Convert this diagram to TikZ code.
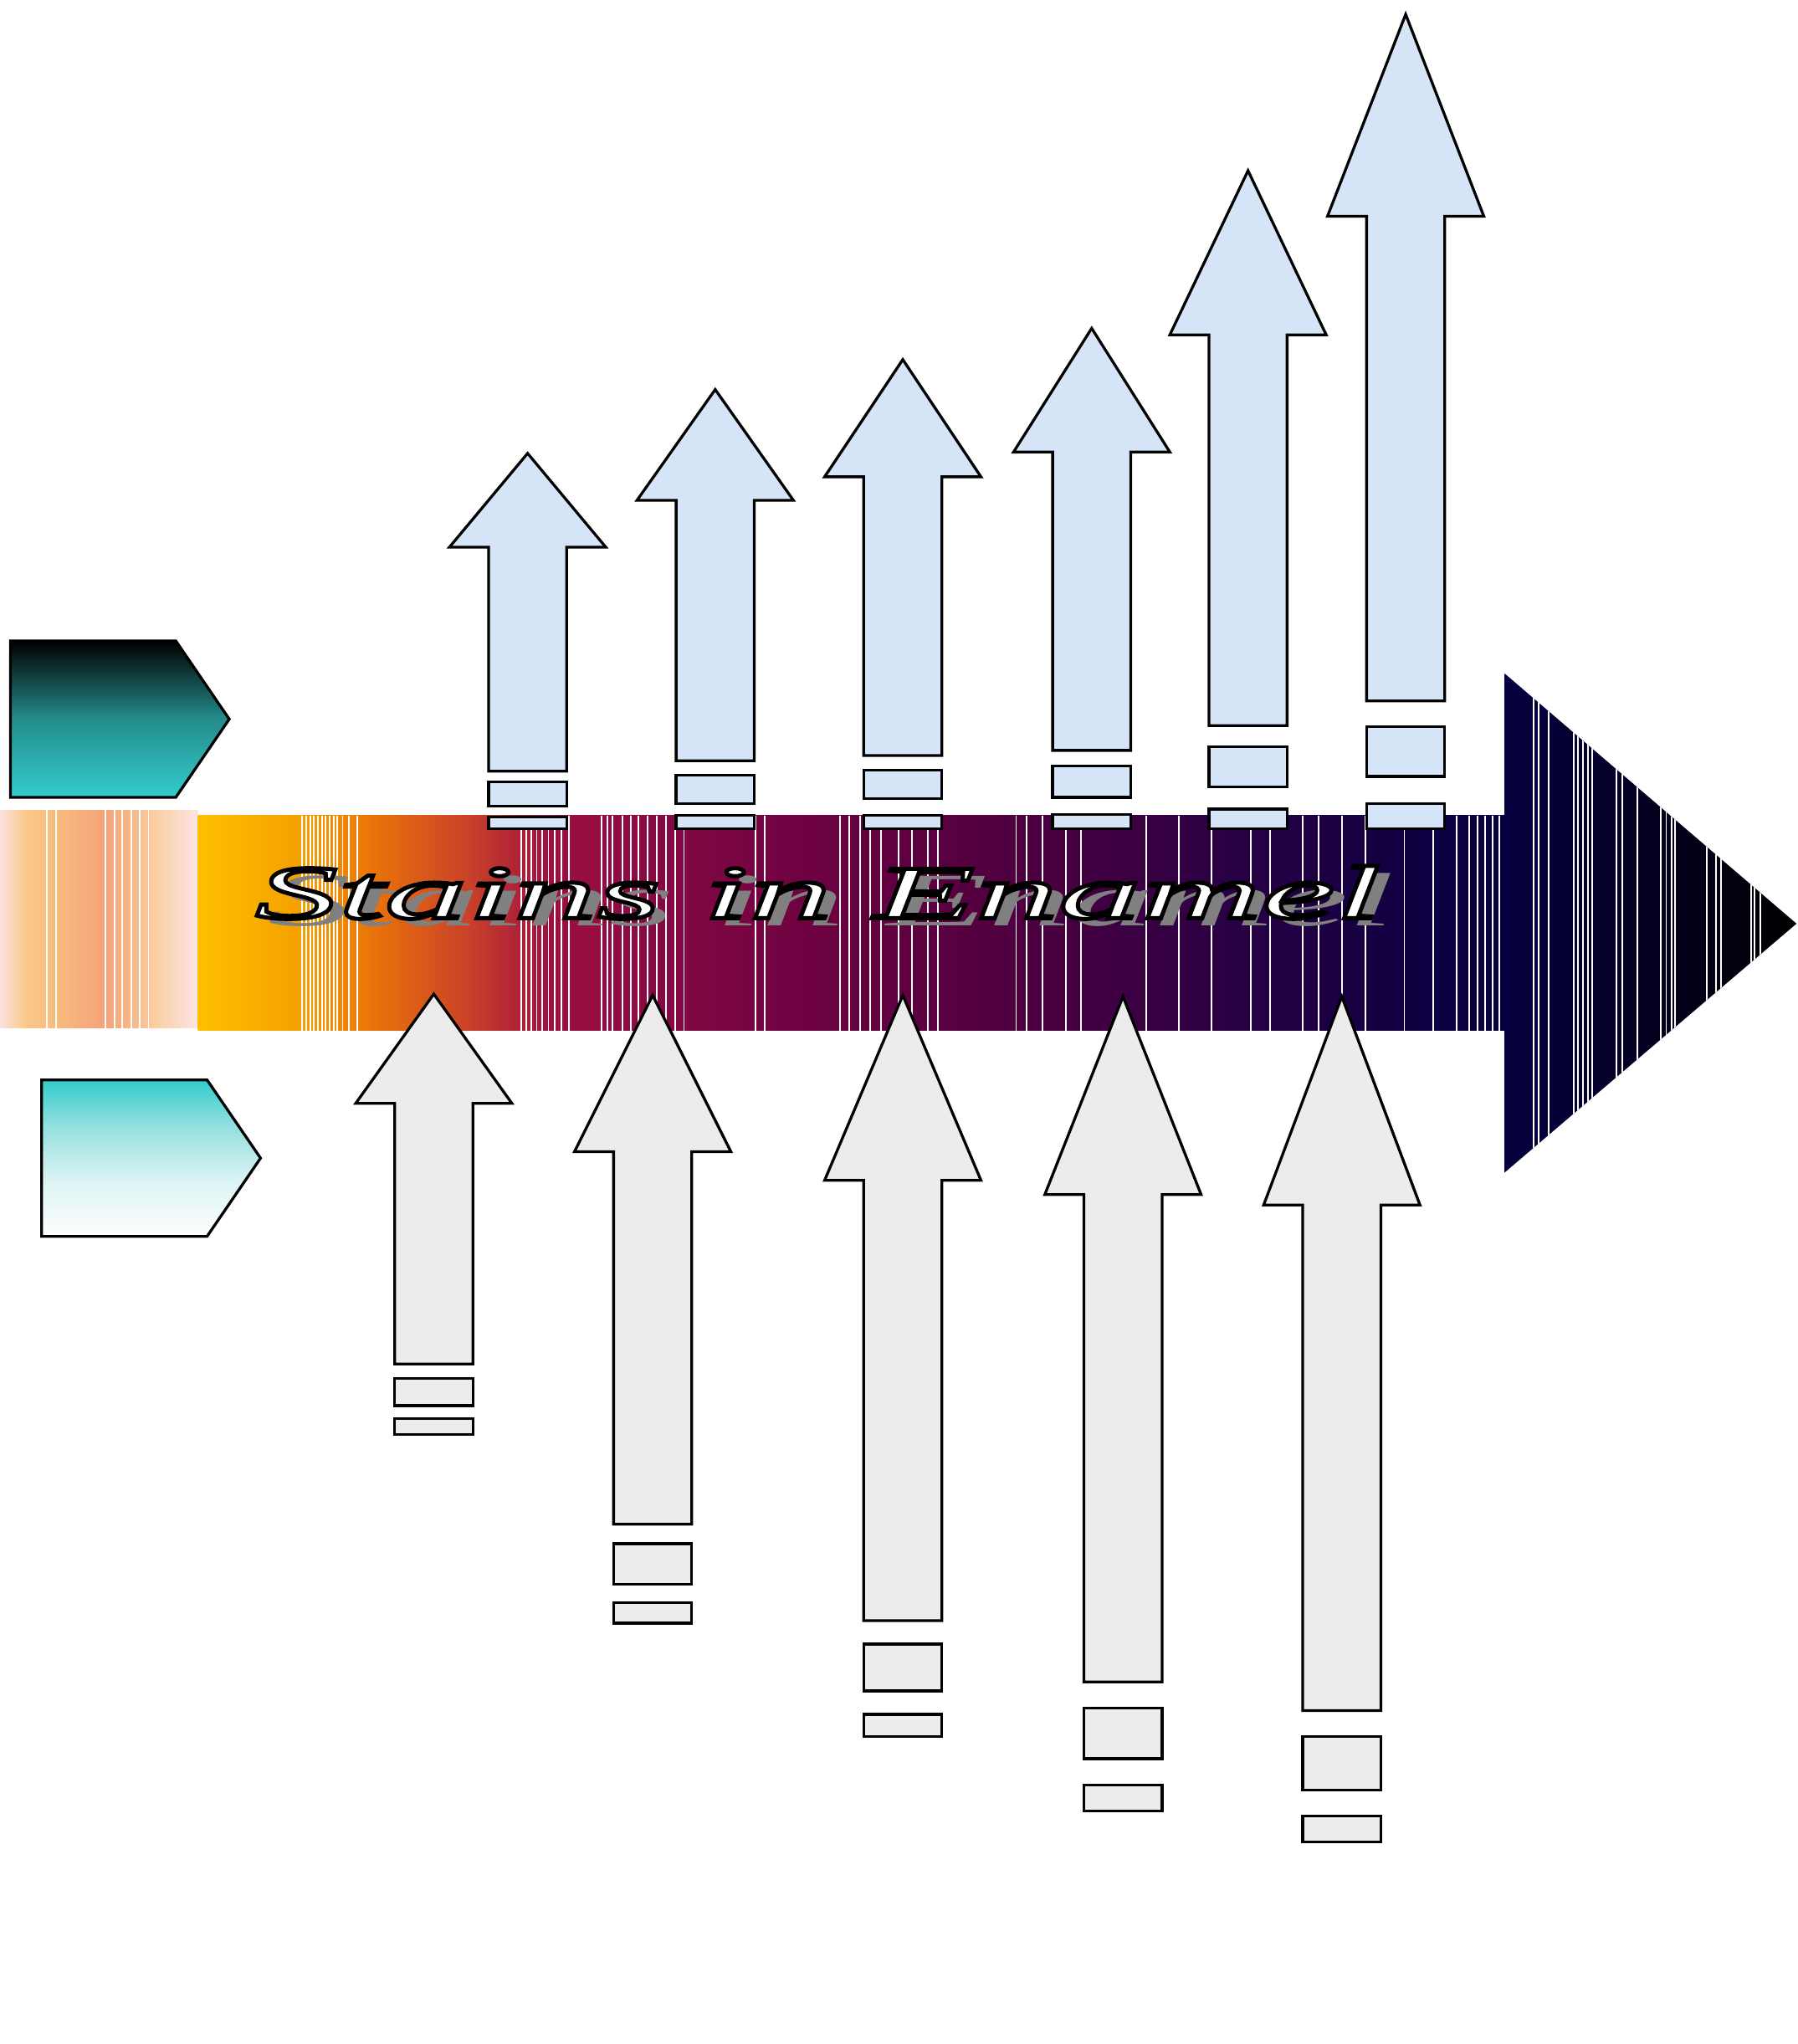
\documentclass[tikz,border=0pt]{standalone}
\usepackage{fontspec}
\newfontfamily\titlefont{Liberation Serif}[FakeStretch=2.2]
\usetikzlibrary{positioning}

\definecolor{spineblue}{RGB}{6,0,64}
\definecolor{tealtop}{RGB}{51,204,204}
\definecolor{iceblue}{RGB}{214,228,248}
\definecolor{stonegrey}{RGB}{236,236,236}

% spine colours, left to right
\definecolor{spA}{RGB}{255,192,0}
\definecolor{spB}{RGB}{245,160,0}
\definecolor{spC}{RGB}{232,112,12}
\definecolor{spD}{RGB}{200,64,42}
\definecolor{spE}{RGB}{158,16,64}
\definecolor{spF}{RGB}{130,8,68}
\definecolor{spG}{RGB}{104,0,64}
\definecolor{spH}{RGB}{74,0,64}
\definecolor{spI}{RGB}{40,0,68}
\definecolor{spJ}{RGB}{16,0,66}
\pgfdeclarehorizontalshading{spineshade}{100bp}{%
  color(0bp)=(spA); color(25bp)=(spA); color(28.9bp)=(spB);
  color(31.9bp)=(spC); color(35.4bp)=(spD); color(38.4bp)=(spE);
  color(43.3bp)=(spF); color(49.8bp)=(spG); color(57.3bp)=(spH);
  color(64.8bp)=(spI); color(71.3bp)=(spJ); color(75bp)=(spineblue);
  color(100bp)=(spineblue)}

% tail colours
\definecolor{tlA}{RGB}{251,226,222}
\definecolor{tlB}{RGB}{248,200,136}
\definecolor{tlC}{RGB}{247,182,124}
\definecolor{tlD}{RGB}{245,162,122}
\definecolor{tlE}{RGB}{247,182,134}
\definecolor{tlF}{RGB}{249,208,164}
\definecolor{tlG}{RGB}{252,228,230}
\pgfdeclarehorizontalshading{tailshade}{100bp}{%
  color(0bp)=(tlA); color(25bp)=(tlA); color(31.6bp)=(tlB);
  color(41.4bp)=(tlC); color(51.3bp)=(tlD); color(57.9bp)=(tlE);
  color(64.5bp)=(tlF); color(75bp)=(tlG); color(100bp)=(tlG)}

\definecolor{tagmid}{RGB}{36,140,140}
\definecolor{tagpale}{RGB}{150,224,224}
\definecolor{tagfaint}{RGB}{222,244,244}
\pgfdeclareverticalshading{tagdark}{100bp}{%
  color(0bp)=(tealtop); color(25bp)=(tealtop); color(50bp)=(tagmid);
  color(75bp)=(black); color(100bp)=(black)}
\pgfdeclareverticalshading{taglight}{100bp}{%
  color(0bp)=(white); color(25bp)=(white); color(42bp)=(tagfaint);
  color(60bp)=(tagpale); color(75bp)=(tealtop); color(100bp)=(tealtop)}

\newcommand\strokedtext[1]{\special{pdf:literal direct 0 0 0 RG 0.9 w 2 Tr}#1\special{pdf:literal direct 0 Tr}}

\begin{document}
\begin{tikzpicture}[x=0.1mm, y=-0.1mm,
    outline/.style={draw=black, line width=0.6pt, line join=miter},
    upshaft/.style={outline, fill=iceblue},
    downshaft/.style={outline, fill=stonegrey},
    band/.style={white, line width=0.35pt},
    titletext/.style={font=\titlefont\itshape\fontsize{16.5}{16.5}\selectfont, inner sep=0pt}
  ]
  \useasboundingbox (0,0) rectangle (1380,1569);

  % tags on the left
  \draw[outline, shade, shading=tagdark] (8,492) -- (135,492) -- (176,552) -- (135,612) -- (8,612) -- cycle;
  \draw[outline, shade, shading=taglight] (32,829) -- (159,829) -- (200,889) -- (159,949) -- (32,949) -- cycle;

  % tail and spine
  \shade[shading=tailshade] (0,622) rectangle (152,789);
  \foreach \x in {36,43,81,88,94,101,107,114}
    \draw[band] (\x,622) -- (\x,789);
  \shade[shading=spineshade] (152,626) rectangle (1156,791);
  \foreach \x in {232,235,238,241,244,247,250,253,256,259,263,268,274,
                  400,404,408,412,416,421,426,431,437,
                  462,466,470,478,484,490,497,504,511,518,525,
                  580,587,645,652,660,668,676,690,700,712,720,
                  780,788,800,818,830,880,905,930,960,975,1000,1012,
                  1030,1048,1078,1100,1118,1128,1134,1140,1146,1151}
    \draw[band] (\x,626) -- (\x,791);
  \begin{scope}
    \clip (1155,517) -- (1379,709) -- (1155,900) -- cycle;
    \shade[left color=spineblue, right color=black] (1155,517) rectangle (1379,900);
    \foreach \x in {1177,1181,1189,1208,1211,1215,1219,1222,1241,1245,1257,
                    1275,1279,1283,1286,1310,1317,1321,1344,1347,1351}
      \draw[band] (\x,517) -- (\x,900);
  \end{scope}

  % title
  \node[titletext, text=gray] (titleshadow) at (638,691) {Stains in Enamel};
  \node[titletext, text=white] (title) at (628,685) {\strokedtext{Stains in Enamel}};

  % arrows above the spine
  \foreach \cx/\ty/\hy/\sy/\ba/\bb/\bc in {405/348/420/592/600/619/627,
      549/299/384/584/595/617/626, 693/276/366/580/591/613/626,
      838/252/347/576/588/612/625, 958/131/257/557/573/604/621,
      1079/11/166/538/558/596/617}{
    \draw[upshaft] (\cx,\ty) -- (\cx+60,\hy) -- (\cx+30,\hy) -- (\cx+30,\sy)
      -- (\cx-30,\sy) -- (\cx-30,\hy) -- (\cx-60,\hy) -- cycle;
    \draw[upshaft] (\cx-30,\ba) rectangle (\cx+30,\bb);
    \draw[upshaft] (\cx-30,\bc) rectangle (\cx+30,636);
  }

  % arrows below the spine
  \foreach \cx/\ty/\hy/\sy/\ba/\bb/\bc/\bd in {333/763/847/1047/1058/1079/1089/1101,
      501/764/884/1170/1185/1216/1230/1246, 693/764/906/1244/1262/1298/1316/1333,
      862/765/917/1291/1311/1350/1370/1390, 1030/765/925/1313/1333/1374/1394/1414}{
    \draw[downshaft] (\cx,\ty) -- (\cx+60,\hy) -- (\cx+30,\hy) -- (\cx+30,\sy)
      -- (\cx-30,\sy) -- (\cx-30,\hy) -- (\cx-60,\hy) -- cycle;
    \draw[downshaft] (\cx-30,\ba) rectangle (\cx+30,\bb);
    \draw[downshaft] (\cx-30,\bc) rectangle (\cx+30,\bd);
  }
\end{tikzpicture}
\end{document}
